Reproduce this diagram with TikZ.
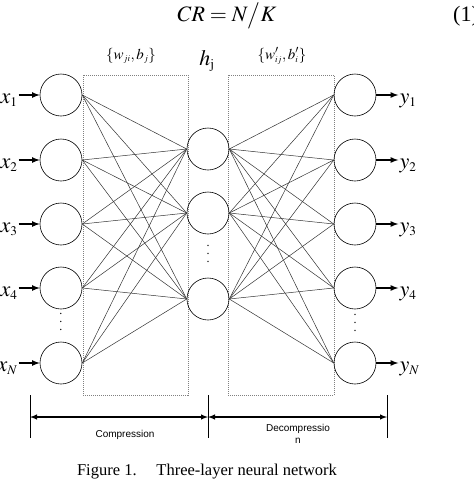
\documentclass[tikz,border=0pt]{standalone}
\usepackage{mathptmx}
\usepackage{fontspec}
\setmainfont{Liberation Serif}
\setsansfont{Liberation Sans}
\tikzset{
  neuron/.style = {draw, circle, minimum size=42pt, inner sep=0pt, line width=0.6pt},
  weightbox/.style = {draw=gray, dash pattern=on 1pt off 1pt, line width=0.6pt},
  link/.style = {draw=black!80, line width=0.5pt},
  io/.style = {->, line width=1.6pt},
  biglabel/.style = {inner sep=1pt, font=\fontsize{22}{26}\selectfont},
  dots/.style = {inner sep=0pt, align=center, font=\fontsize{12}{8}\selectfont}
}
\tikzset{>=latex}
\newcommand{\sub}[1]{_{\scriptscriptstyle #1}}

\begin{document}
\begin{tikzpicture}[x=1pt,y=-1pt]
  \useasboundingbox (0,0) rectangle (474,480);
  % equation
  \node (eq) at (227,21) [anchor=base, biglabel] {$CR = N\big/K$};
  \node (eqnum) at (452,21) [anchor=base west, biglabel] {(1)};
  % weight boxes
  \draw[weightbox] (83,75) rectangle (188,395);
  \draw[weightbox] (228,75) rectangle (334,395);
  \node (wenc) at (131,59) [anchor=base, inner sep=1pt, font=\fontsize{15}{18}\selectfont] {$\{w\sub{ji},b\sub{j}\}$};
  \node (hlab) at (207,65) [anchor=base, biglabel] {$h\sub{\mathrm{j}}$};
  \node (wdec) at (282,59) [anchor=base, inner sep=1pt, font=\fontsize{15}{18}\selectfont] {$\{w'\sub{ij},b'\sub{i}\}$};
  % layers
  \foreach \i/\y in {1/95,2/160,3/224,4/288,5/363} {
    \node (in\i) at (61,\y) [neuron] {};
    \node (out\i) at (355,\y) [neuron] {};
  }
  \foreach \j/\y in {1/149,2/213,3/299}
    \node (hid\j) at (208,\y) [neuron] {};
  % connections
  \foreach \i in {1,...,5}
    \foreach \j in {1,2,3} {
      \draw[link] (in\i.east) -- (hid\j.west);
      \draw[link] (hid\j.east) -- (out\i.west);
    }
  % dots
  \node (indots) at (61,322) [dots] {.\\.\\.};
  \node (hiddots) at (208,254) [dots] {.\\.\\.};
  \node (outdots) at (355,323) [dots] {.\\.\\.};
  % inputs and outputs
  \foreach \i/\t in {1/1,2/2,3/3,4/4,5/N} {
    \node (x\i) at ([xshift=-21pt, yshift=-8pt]in\i.west) [anchor=base east, biglabel] {$x\sub{\t}$};
    \draw[io] (x\i.east |- in\i) -- (in\i.west);
    \node (y\i) at ([xshift=22pt, yshift=-8pt]out\i.east) [anchor=base west, biglabel] {$y\sub{\t}$};
    \draw[io] (out\i.east) -- (y\i.west |- out\i);
  }
  % extent
  \coordinate (c1) at (30,417);
  \coordinate (c2) at (208,417);
  \coordinate (c3) at (387,417);
  \foreach \c in {c1,c2,c3}
    \draw[line width=0.6pt] ([yshift=22pt]\c) -- ([yshift=-21pt]\c);
  \draw[<->, line width=1.4pt] (c1) -- (c2);
  \draw[<->, line width=1.4pt] (c2) -- (c3);
  \node (comp) at (125,437) [anchor=base, inner sep=0pt, font=\sffamily\fontsize{10}{12}\selectfont] {Compression};
  \node (decomp) at (298,424) [anchor=north, align=center, inner sep=0pt, font=\sffamily\fontsize{10}{12}\selectfont] {Decompressio\\n};
  % caption
  \node (cap) at (207,475) [anchor=base, inner sep=0pt, font=\fontsize{16.5}{20}\selectfont] {Figure 1.\hspace{1.2em}Three-layer neural network};
\end{tikzpicture}
\end{document}
